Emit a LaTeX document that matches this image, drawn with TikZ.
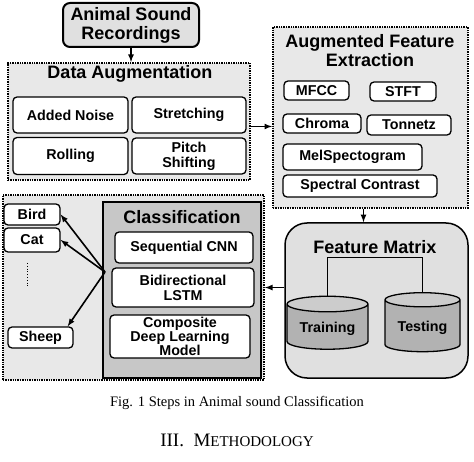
\documentclass[tikz,border=0pt]{standalone}
\usepackage{fontspec}
\setmainfont{Liberation Sans}
\newfontfamily\capserif{Liberation Serif}
\usetikzlibrary{shapes.geometric}

\tikzset{
 group/.style={draw,dash pattern=on 1.4pt off 1pt,line width=1.8pt,fill=black!9},
 box/.style={draw,rounded corners=4pt,line width=1.3pt,fill=white,align=center,
   inner sep=1pt,font=\bfseries\fontsize{14.3}{15}\selectfont},
 title/.style={align=center,font=\bfseries\fontsize{18}{19}\selectfont},
 drum/.style={draw,cylinder,shape border rotate=90,aspect=0.25,line width=1.3pt,
   cylinder uses custom fill,cylinder body fill=black!30,cylinder end fill=black!20,
   font=\bfseries\fontsize{14.3}{15}\selectfont},
 arr/.style={-latex,line width=1.6pt},
}

\begin{document}
\begin{tikzpicture}[x=1pt,y=-1pt]
\useasboundingbox (0,0) rectangle (474,462);
%Groups
\path
 (129,121.5) node[group,minimum width=242,minimum height=117] (aug) {}
 (370.5,117.5) node[group,minimum width=195,minimum height=181] (fext) {}
 (133.5,287.5) node[group,minimum width=261,minimum height=185] (out) {}
 (376.5,300.5) node[draw,rounded corners=22pt,line width=1.5pt,fill=black!12,minimum width=183,minimum height=155] (fmat) {}
 (182,290) node[draw,line width=1.3pt,fill=black!22,minimum width=158,minimum height=176] (cls) {}
 ;
%Titles
\path
 (131,25) node[box,fill=black!12,line width=2pt,rounded corners=7pt,minimum width=136,minimum height=44,title] (rec) {Animal Sound\\Recordings}
 (130,74) node[title] (taug) {Data Augmentation}
 (370,51) node[title] (tfext) {Augmented Feature\\Extraction}
 (375,247) node[title] (tfmat) {Feature Matrix}
 (182,217) node[title] (tcls) {Classification}
 ;
%Boxes
\path
 (70.5,115) node[box,minimum width=115,minimum height=36] (noise) {Added Noise}
 (189,115) node[box,minimum width=114,minimum height=36] (stretch) {Stretching}
 (70.5,156) node[box,minimum width=115,minimum height=37] (roll) {Rolling}
 (189,156) node[box,minimum width=114,minimum height=36] (pitch) {Pitch\\Shifting}
 (316.5,90.5) node[box,minimum width=65,minimum height=19] (mfcc) {MFCC}
 (403,91.5) node[box,minimum width=66,minimum height=19] (stft) {STFT}
 (322,123.5) node[box,minimum width=78,minimum height=19] (chroma) {Chroma}
 (409,125) node[box,minimum width=84,minimum height=20] (tonnetz) {Tonnetz}
 (352.5,157) node[box,minimum width=139,minimum height=26] (mel) {MelSpectogram}
 (360,186) node[box,minimum width=154,minimum height=22] (spec) {Spectral Contrast}
 (327.5,328.5) node[drum,minimum width=81,minimum height=53] (train) {Training}
 (422.5,327.5) node[drum,minimum width=75,minimum height=59] (test) {Testing}
 (184,247.5) node[box,minimum width=138,minimum height=31] (cnn) {Sequential CNN}
 (183,287.5) node[box,minimum width=142,minimum height=39] (lstm) {Bidirectional\\LSTM}
 (180,336.5) node[box,minimum width=140,minimum height=43,font=\bfseries\fontsize{14.3}{14}\selectfont] (comp) {Composite\\Deep Learning\\Model}
 (32,214.5) node[box,minimum width=56,minimum height=21] (bird) {Bird}
 (32,240) node[box,minimum width=56,minimum height=24] (cat) {Cat}
 (40.5,337.5) node[box,minimum width=65,minimum height=21] (sheep) {Sheep}
 ;
\coordinate (hub) at (105,272);
\coordinate (dotA) at (27,263);
\coordinate (dotB) at (27,287);

%Edges
\draw[arr] (rec) -- (rec |- aug.north);
\draw[arr] ([yshift=-5pt]aug.east) -- ([yshift=-5pt]aug.east -| fext.west);
\draw[arr] ([xshift=-7pt]fext.south) -- ([xshift=-7pt]fext.south |- fmat.north);
\draw[arr] (fmat.172) -- (fmat.172 -| out.east);
\draw[line width=1.3pt] (train.top) -- ++(0,-38) -| (test.top);
\draw[arr] (hub) -- (bird.east);
\draw[arr] (hub) -- (cat.east);
\draw[arr] (hub) -- ([xshift=-6pt]sheep.north east);
\draw[dotted,line width=0.8pt] (dotA) -- (dotB);

% Caption
\node[font=\capserif\fontsize{14.5}{15}\selectfont] (cap) at (237,403) {Fig. 1 Steps in Animal sound Classification};
\node[font=\capserif] (sec) at (237,440) {\fontsize{19}{20}\selectfont III.\ \ M\fontsize{15}{16}\selectfont ETHODOLOGY};
\end{tikzpicture}
\end{document}
